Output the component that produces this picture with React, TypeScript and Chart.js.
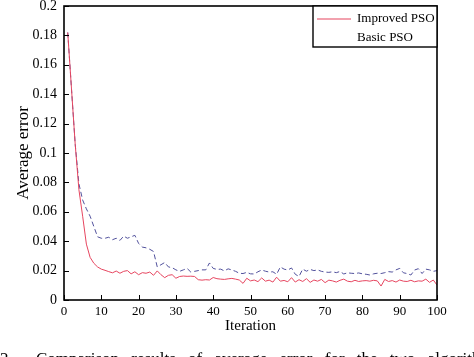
import React, { useEffect, useRef } from "react";
import { Chart, registerables } from "chart.js";

Chart.register(...registerables);

const iterations = Array.from({ length: 100 }, (_, i) => i + 1);

const improvedPSO = [
  0.182, 0.144, 0.106, 0.075, 0.057, 0.038, 0.029, 0.025, 0.0225, 0.021,
  0.0202, 0.0193, 0.0185, 0.0197, 0.0182, 0.0195, 0.02, 0.0178, 0.0192, 0.0172,
  0.0186, 0.0182, 0.019, 0.0168, 0.0198, 0.0172, 0.0152, 0.0168, 0.0172, 0.0148,
  0.016, 0.0163, 0.0161, 0.0162, 0.016, 0.0138, 0.0135, 0.0138, 0.0136, 0.0153,
  0.0145, 0.0142, 0.014, 0.0144, 0.0147, 0.0142, 0.0136, 0.0113, 0.0148, 0.013,
  0.0136, 0.0125, 0.015, 0.0128, 0.0135, 0.0122, 0.0155, 0.0128, 0.0133, 0.0124,
  0.0152, 0.0122, 0.0138, 0.0126, 0.0145, 0.012, 0.0136, 0.0128, 0.014, 0.0118,
  0.0135, 0.013, 0.0122, 0.0134, 0.0142, 0.0128, 0.0124, 0.0134, 0.0126, 0.013,
  0.0132, 0.0128, 0.0134, 0.013, 0.0095, 0.014, 0.0126, 0.0132, 0.0122, 0.0136,
  0.0128, 0.0126, 0.0134, 0.0124, 0.013, 0.0128, 0.0142, 0.012, 0.0136, 0.0102,
];

const basicPSO = [
  0.182, 0.144, 0.106, 0.079, 0.068, 0.062, 0.057, 0.05, 0.043, 0.042,
  0.042, 0.0427, 0.041, 0.042, 0.0405, 0.0435, 0.042, 0.043, 0.044, 0.0385,
  0.036, 0.0355, 0.0345, 0.033, 0.0225, 0.024, 0.0255, 0.0225, 0.022, 0.0205,
  0.0195, 0.0205, 0.0215, 0.019, 0.0195, 0.02, 0.0205, 0.0205, 0.0252, 0.0215,
  0.0208, 0.021, 0.0198, 0.0212, 0.0204, 0.0195, 0.0182, 0.018, 0.0188, 0.0178,
  0.0177, 0.0192, 0.0204, 0.0196, 0.019, 0.0192, 0.0175, 0.0225, 0.021, 0.0204,
  0.0218, 0.0175, 0.016, 0.021, 0.0196, 0.0208, 0.02, 0.0205, 0.0195, 0.019,
  0.0188, 0.0192, 0.0186, 0.0194, 0.0177, 0.0185, 0.0182, 0.018, 0.0184, 0.0178,
  0.0175, 0.017, 0.0178, 0.0182, 0.018, 0.0186, 0.0193, 0.019, 0.0205, 0.0215,
  0.0185, 0.018, 0.017, 0.0204, 0.0213, 0.018, 0.021, 0.0205, 0.0195, 0.02,
];

const xTicks = [0, 10, 20, 30, 40, 50, 60, 70, 80, 90, 100];
const yTicks = [0, 0.02, 0.04, 0.06, 0.08, 0.1, 0.12, 0.14, 0.16, 0.18, 0.2];
const seriesLabels = ["Improved PSO", "Basic PSO"];

const FONT = "'Liberation Serif', 'Times New Roman', serif";
const RED = "#e6455f";
const BLUE = "#51519c";

const framePlugin = {
  id: "frameAndTicks",
  afterDraw(chart: any) {
    const { ctx, chartArea, scales } = chart;
    const { left, right, top, bottom } = chartArea;
    const x = scales.x;
    const y = scales.y;
    ctx.save();
    ctx.setLineDash([]);
    ctx.strokeStyle = "#000";
    ctx.lineWidth = 1;
    ctx.beginPath();
    x.ticks.forEach((t: any) => {
      const px = Math.round(x.getPixelForValue(t.value)) + 0.5;
      ctx.moveTo(px, bottom);
      ctx.lineTo(px, bottom - 5);
    });
    y.ticks.forEach((t: any) => {
      const py = Math.round(y.getPixelForValue(t.value)) + 0.5;
      ctx.moveTo(left, py);
      ctx.lineTo(left + 5, py);
    });
    ctx.stroke();
    ctx.lineWidth = 1.6;
    ctx.strokeRect(left, top, right - left, bottom - top);

    // legend box inside the plot area, top-right
    const bw = 124;
    const bh = 41;
    const bx = right - bw;
    const by = top;
    ctx.lineWidth = 1.4;
    ctx.fillStyle = "#fff";
    ctx.fillRect(bx, by, bw, bh);
    ctx.strokeRect(bx, by, bw, bh);
    const ds = chart.data.datasets;
    ctx.strokeStyle = RED;
    ctx.lineWidth = 1.2;
    ctx.beginPath();
    ctx.moveTo(bx + 4, by + 13);
    ctx.lineTo(bx + 38, by + 13);
    ctx.stroke();
    ctx.font = `13px ${FONT}`;
    ctx.fillStyle = "#000";
    ctx.textBaseline = "middle";
    ctx.textAlign = "left";
    ctx.fillText(ds[0].label, bx + 44, by + 13);
    ctx.fillText(ds[1].label, bx + 44, by + 32);
    ctx.restore();
  },
};

export default function App() {
  const ref = useRef<HTMLCanvasElement | null>(null);

  useEffect(() => {
    if (!ref.current) return;
    const chart = new Chart(ref.current, {
      type: "line",
      data: {
        datasets: [
          {
            label: seriesLabels[0],
            data: iterations.map((it, i) => ({ x: it, y: improvedPSO[i] })),
            borderColor: RED,
            borderWidth: 1,
            pointRadius: 0,
            tension: 0,
          },
          {
            label: seriesLabels[1],
            data: iterations.map((it, i) => ({ x: it, y: basicPSO[i] })),
            borderColor: BLUE,
            borderWidth: 1,
            borderDash: [5, 3],
            pointRadius: 0,
            tension: 0,
          },
        ],
      },
      options: {
        animation: false,
        responsive: false,
        maintainAspectRatio: false,
        layout: { padding: { left: 0, right: 37, top: 6, bottom: 0 } },
        plugins: {
          legend: { display: false },
          tooltip: { enabled: false },
        },
        scales: {
          x: {
            type: "linear",
            min: 0,
            max: 100,
            afterBuildTicks: (s: any) => {
              s.ticks = xTicks.map((v) => ({ value: v }));
            },
            afterFit: (s: any) => {
              s.height = 57;
              s.paddingLeft = 0;
              s.paddingRight = 0;
            },
            grid: { display: false, drawTicks: false },
            border: { display: false },
            ticks: {
              padding: 4,
              color: "#000",
              maxRotation: 0,
              autoSkip: false,
              font: { family: FONT, size: 13 },
            },
            title: {
              display: true,
              text: "Iteration",
              color: "#000",
              font: { family: FONT, size: 15 },
              padding: { top: 0, bottom: 22 },
            },
          },
          y: {
            type: "linear",
            min: 0,
            max: 0.2,
            afterBuildTicks: (s: any) => {
              s.ticks = yTicks.map((v) => ({ value: v }));
            },
            afterFit: (s: any) => {
              s.width = 64;
              s.paddingTop = 0;
              s.paddingBottom = 0;
            },
            grid: { display: false, drawTicks: false },
            border: { display: false },
            ticks: {
              padding: 7,
              color: "#000",
              autoSkip: false,
              font: { family: FONT, size: 14 },
              callback: (v: any) => String(Number(Number(v).toFixed(2))),
            },
            title: {
              display: true,
              text: "Average error",
              color: "#000",
              font: { family: FONT, size: 17 },
              padding: { top: 13, bottom: 0 },
            },
          },
        },
      },
      plugins: [framePlugin],
    });
    return () => chart.destroy();
  }, []);

  return (
    <div
      style={{
        position: "fixed",
        left: 0,
        top: 0,
        width: 474,
        height: 357,
        overflow: "hidden",
        background: "#fff",
      }}
    >
      <canvas ref={ref} width={474} height={357} style={{ display: "block" }} />
      <div
        style={{
          position: "absolute",
          left: 0,
          top: 350,
          fontFamily: FONT,
          fontSize: 17,
          lineHeight: "17px",
          whiteSpace: "pre",
          color: "#000",
        }}
      >
        2
      </div>
      <div
        style={{
          position: "absolute",
          left: 36,
          top: 350,
          fontFamily: FONT,
          fontSize: 17,
          lineHeight: "17px",
          wordSpacing: 8,
          whiteSpace: "pre",
          color: "#000",
        }}
      >
        Comparison results of average error for the two algorithms
      </div>
    </div>
  );
}
